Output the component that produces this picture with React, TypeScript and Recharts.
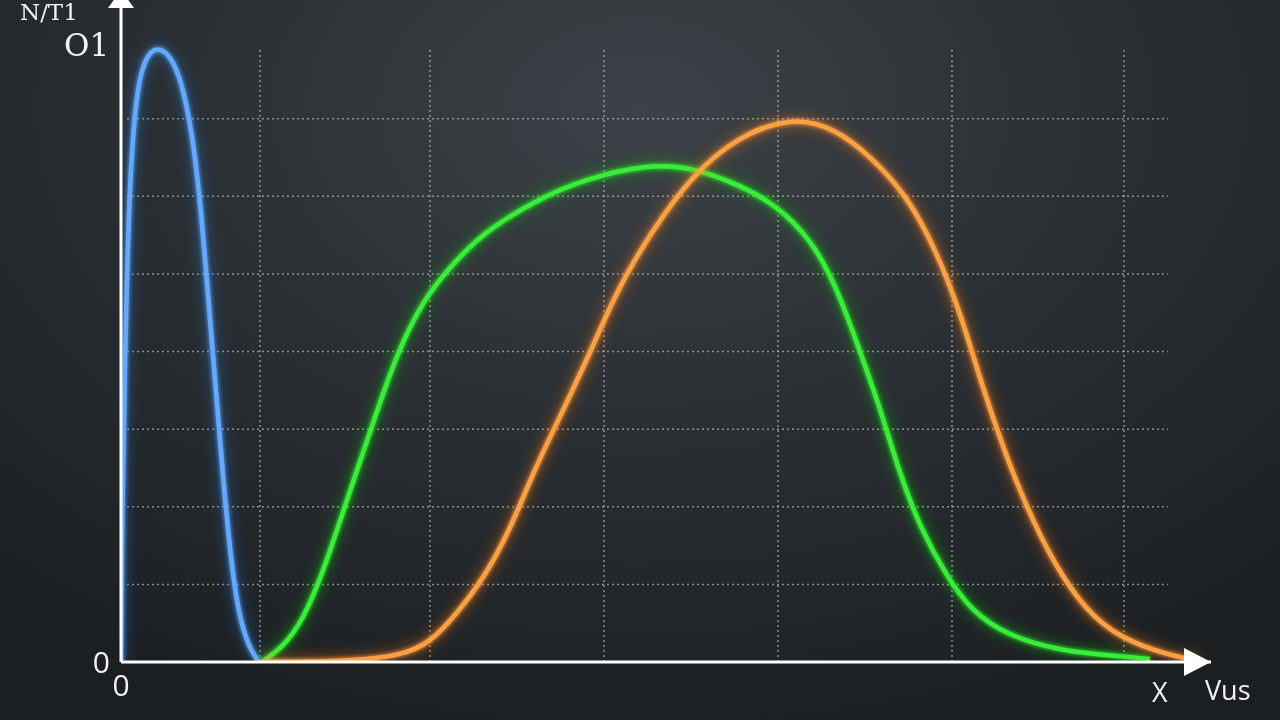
import { LineChart, Line, XAxis, YAxis, ReferenceLine, ReferenceDot } from 'recharts';

// x in tenths of the plot (10px each), y in grid steps
const blueX = [0, 0.1, 0.4, 0.8, 1.4, 2.1, 3.6, 5.6, 6.9, 7.9, 9.2, 10.2, 11.2, 12.2, 13.6, 14.0];
const blueY = [0, 1.8, 3.94, 6.04, 7.15, 7.72, 7.98, 7.72, 7.0, 6.04, 3.94, 2.36, 1.04, 0.36, 0.01, 0];

const greenX = [14.1, 16.2, 18.2, 20.2, 22.6, 25.2, 27.6, 30.2, 32.9, 36.2, 41.2, 46.2, 52.9, 57.2, 61.8, 65.4, 69.0, 71.5, 73.6, 75.8, 77.9, 80.0, 82.5, 85.0, 88.6, 94.0, 99.3, 102.9];
const greenY = [0, 0.19, 0.54, 1.15, 2.09, 3.08, 3.98, 4.66, 5.09, 5.53, 5.93, 6.22, 6.42, 6.37, 6.15, 5.9, 5.45, 4.85, 4.11, 3.32, 2.41, 1.71, 1.12, 0.66, 0.34, 0.14, 0.08, 0.04];

const orangeX = [14.1, 22.9, 27.9, 30.9, 33.6, 36.2, 38.9, 41.2, 43.9, 46.9, 49.6, 52.9, 57.2, 61.8, 67.2, 71.5, 75.0, 78.6, 81.5, 84.0, 86.1, 88.3, 90.4, 93.3, 96.5, 100.0, 104.7, 107.9];
const orangeY = [0, 0.01, 0.08, 0.24, 0.63, 1.06, 1.7, 2.44, 3.16, 3.98, 4.79, 5.52, 6.29, 6.78, 7.03, 6.87, 6.51, 6.01, 5.31, 4.48, 3.56, 2.73, 2.04, 1.26, 0.66, 0.3, 0.09, 0.01];

const gridX = [13.9, 30.9, 48.3, 65.7, 83.1, 100.3];
const gridY = [1, 2, 3, 4, 5, 6, 7];

const X_MAX = 109;
const Y_MAX = 8.53;

const zip = (xs: number[], ys: number[]) => xs.map((x, i) => ({ x, y: ys[i] }));

const blueData = zip(blueX, blueY);
const greenData = zip(greenX, greenY);
const orangeData = zip(orangeX, orangeY);

const UpArrow = (props: any) => {
  const { cx, cy } = props;
  return <path d={`M${cx},${cy - 10} L${cx + 13},${cy + 8} L${cx - 13},${cy + 8} Z`} fill='#ffffff' />;
};

const RightArrow = (props: any) => {
  const { cx, cy } = props;
  return <path d={`M${cx},${cy} L${cx - 27},${cy - 14} L${cx - 27},${cy + 14} Z`} fill='#ffffff' />;
};

const glow = (id: string, color: string) => (
  <filter id={id} filterUnits='userSpaceOnUse' x='0' y='0' width='1280' height='720'>
    <feGaussianBlur in='SourceGraphic' stdDeviation='7' result='blur' />
    <feFlood floodColor={color} floodOpacity='0.85' result='c' />
    <feComposite in='c' in2='blur' operator='in' result='halo' />
    <feGaussianBlur in='SourceGraphic' stdDeviation='2' result='soft' />
    <feMerge>
      <feMergeNode in='halo' />
      <feMergeNode in='soft' />
      <feMergeNode in='SourceGraphic' />
    </feMerge>
  </filter>
);

const label = (text: string, left: number, top: number, size: number, family: string) => (
  <div
    style={{
      position: 'absolute',
      left,
      top,
      fontSize: size,
      fontFamily: family,
      color: '#f2f2f2',
      lineHeight: 1,
      whiteSpace: 'nowrap',
    }}
  >
    {text}
  </div>
);

const App = () => {
  return (
    <div
      style={{
        position: 'fixed',
        left: 0,
        top: 0,
        width: 1280,
        height: 720,
        overflow: 'hidden',
        background: 'radial-gradient(ellipse 75% 90% at 50% 15%, #3c4247 0%, #2b3034 45%, #1c1f22 100%)',
      }}
    >
      <LineChart width={1280} height={720} margin={{ top: 0, right: 1280 - 121 - X_MAX * 10, bottom: 0, left: 0 }}>
        <defs>
          {glow('glowBlue', '#2f7fe0')}
          {glow('glowGreen', '#22d022')}
          {glow('glowOrange', '#ff7a10')}
        </defs>
        <XAxis
          type='number'
          dataKey='x'
          domain={[0, X_MAX]}
          ticks={[0]}
          height={58}
          tickSize={0}
          tickMargin={13}
          axisLine={{ stroke: '#ffffff', strokeWidth: 3 }}
          tick={{ fill: '#f2f2f2', fontSize: 30, fontFamily: 'Open Sans' }}
          allowDataOverflow
        />
        <YAxis
          type='number'
          domain={[0, Y_MAX]}
          ticks={[0]}
          width={121}
          tickSize={0}
          tickMargin={11}
          axisLine={{ stroke: '#ffffff', strokeWidth: 3 }}
          tick={{ fill: '#f2f2f2', fontSize: 30, fontFamily: 'Open Sans' }}
          allowDataOverflow
        />
        {gridY.map((g) => (
          <ReferenceLine
            key={'h' + g}
            segment={[{ x: 0.6, y: g }, { x: 104.7, y: g }]}
            stroke='#b8bcc0'
            strokeOpacity={0.7}
            strokeWidth={1.5}
            strokeDasharray='2 3'
          />
        ))}
        {gridX.map((g) => (
          <ReferenceLine
            key={'v' + g}
            segment={[{ x: g, y: 0 }, { x: g, y: 7.91 }]}
            stroke='#b8bcc0'
            strokeOpacity={0.7}
            strokeWidth={1.5}
            strokeDasharray='2 3'
          />
        ))}
        <Line data={blueData} dataKey='y' type='basis' stroke='#62aaff' strokeWidth={4.5} dot={false} isAnimationActive={false} filter='url(#glowBlue)' />
        <Line data={greenData} dataKey='y' type='basis' stroke='#34f034' strokeWidth={4.5} dot={false} isAnimationActive={false} filter='url(#glowGreen)' />
        <Line data={orangeData} dataKey='y' type='basis' stroke='#ffa040' strokeWidth={4.5} dot={false} isAnimationActive={false} filter='url(#glowOrange)' />
        <ReferenceDot x={0} y={Y_MAX} r={0} ifOverflow='visible' shape={UpArrow} />
        <ReferenceDot x={X_MAX} y={0} r={0} ifOverflow='visible' shape={RightArrow} />
      </LineChart>
      {label('N/T1', 20, 1, 23, 'DejaVu Serif')}
      {label('O1', 64, 30, 31, 'DejaVu Serif')}
      {label('X', 1152, 678, 27, 'Open Sans')}
      {label('Vus', 1205, 676, 27, 'Open Sans')}
    </div>
  );
};

export default App;
